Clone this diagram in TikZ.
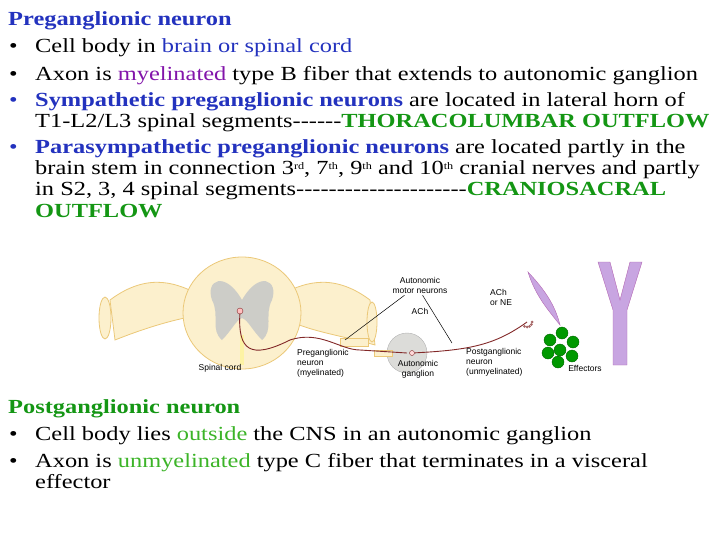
\documentclass[tikz,border=0pt]{standalone}
\usetikzlibrary{shapes.geometric,calc}
\usepackage{fontspec}
\setmainfont{Liberation Serif}[FakeStretch=1.22]
\newfontfamily\arialf{Liberation Sans}
\definecolor{tblue}{RGB}{35,50,190}
\definecolor{tpurp}{RGB}{130,20,170}
\definecolor{tgreen}{RGB}{20,150,20}
\definecolor{lgreen}{RGB}{60,180,40}
\definecolor{cream}{RGB}{252,240,205}
\definecolor{cordline}{RGB}{235,200,120}
\definecolor{gmat}{RGB}{205,205,200}
\definecolor{axon}{RGB}{130,40,40}
\definecolor{vio}{RGB}{200,165,225}
\newcommand\sups[1]{\raisebox{5pt}{\fontsize{10}{10}\selectfont #1}}
\begin{document}
\begin{tikzpicture}[x=1pt,y=-1pt,
  txt/.style={anchor=base west,inner sep=0pt,font=\fontsize{20}{21}\selectfont},
  bul/.style={anchor=base west,inner sep=0pt,font=\fontsize{20}{21}\selectfont},
  lab/.style={inner sep=0pt,align=center,font=\arialf\fontsize{8.5}{10}\selectfont},
  labl/.style={inner sep=0pt,align=left,font=\arialf\fontsize{8.5}{10}\selectfont},
  leader/.style={black,line width=0.5pt}]
\useasboundingbox (0,0) rectangle (728,546);
% text block
\node[txt] (t1) at (8,25) {\textbf{\textcolor{tblue}{Preganglionic neuron}}};
\node[bul] (b1) at (9,52) {•};
\node[txt] (t2) at (35,52) {Cell body in \textcolor{tblue}{brain or spinal cord}};
\node[bul] (b2) at (9,80) {•};
\node[txt] (t3) at (35,80) {Axon is \textcolor{tpurp}{myelinated} type B fiber that extends to autonomic ganglion};
\node[bul] (b3) at (9,106) {\textcolor{tblue}{•}};
\node[txt] (t4) at (35,106) {\textbf{\textcolor{tblue}{Sympathetic preganglionic neurons}} are located in lateral horn of};
\node[txt] (t5) at (35,127) {T1-L2/L3 spinal segments-{}-{}-{}-{}-{}-\textcolor{tgreen}{\textbf{THORACOLUMBAR OUTFLOW}}};
\node[bul] (b4) at (9,153) {\textcolor{tblue}{•}};
\node[txt] (t6) at (35,153) {\textbf{\textcolor{tblue}{Parasympathetic preganglionic neurons}} are located partly in the};
\node[txt] (t7) at (35,174) {brain stem in connection 3\sups{rd}, 7\sups{th}, 9\sups{th} and 10\sups{th} cranial nerves and partly};
\node[txt] (t8) at (35,195) {in S2, 3, 4 spinal segments-{}-{}-{}-{}-{}-{}-{}-{}-{}-{}-{}-{}-{}-{}-{}-{}-{}-{}-{}-{}-{}\textcolor{tgreen}{\textbf{CRANIOSACRAL}}};
\node[txt] (t9) at (35,217) {\textcolor{tgreen}{\textbf{OUTFLOW}}};
\node[txt] (t10) at (8,413) {\textbf{\textcolor{tgreen}{Postganglionic neuron}}};
\node[bul] (b5) at (9,440) {•};
\node[txt] (t11) at (35,440) {Cell body lies \textcolor{lgreen}{outside} the CNS in an autonomic ganglion};
\node[bul] (b6) at (9,467) {•};
\node[txt] (t12) at (35,467) {Axon is \textcolor{lgreen}{unmyelinated} type C fiber that terminates in a visceral};
\node[txt] (t13) at (35,488) {effector};
% spinal cord drawing
\fill[cream,draw=cordline,line width=0.8pt] (110,300) .. controls (150,270) and (180,285) .. (200,295) -- (200,315) .. controls (170,320) and (140,330) .. (115,340) -- cycle;
\fill[cream,draw=cordline,line width=0.8pt] (370,300) .. controls (330,270) and (300,285) .. (280,295) -- (280,315) .. controls (300,330) and (340,335) .. (375,345) -- cycle;
\fill[cream,draw=cordline,line width=0.8pt] (105,318) ellipse (6 and 21);
\fill[cream,draw=cordline,line width=0.8pt] (372,322) ellipse (5 and 20);
\node[draw=cordline,fill=cream,ellipse,minimum width=118,minimum height=112,line width=0.8pt] (cord) at (242,313) {};
\fill[gmat] (242,300) .. controls (225,270) and (205,280) .. (212,300) .. controls (220,315) and (210,330) .. (222,340) .. controls (232,330) and (236,320) .. (242,318) .. controls (248,320) and (252,330) .. (262,340) .. controls (274,330) and (264,315) .. (272,300) .. controls (279,280) and (259,270) .. (242,300) -- cycle;
\fill[cream!80!yellow] (240,335) rectangle (244,365);
\node[draw=axon,fill=pink,circle,minimum size=6pt,inner sep=0pt] (soma) at (240,311) {};
% preganglionic axon
\node[draw=gray!60,fill=gmat!70,circle,minimum size=40pt,inner sep=0pt] (gang) at (407,353) {};
\fill[cream,draw=cordline] (340,338) rectangle (368,346);
\fill[cream,draw=cordline] (374,350) rectangle (392,356);
\draw[axon,line width=0.9pt] (soma) .. controls (238,350) and (250,360) .. (290,340) .. controls (320,330) and (340,350) .. (360,350) -- (gang.center);
\node[draw=axon,fill=pink!60,circle,minimum size=5pt,inner sep=0pt] (gsoma) at (412,353) {};
\coordinate (term) at (527,322);
\draw[axon,line width=0.9pt] (gsoma) .. controls (470,350) and (495,345) .. (term);
\foreach \a in {0,30,60,90,120} \fill[axon!70] ($(term)+(\a:5)$) circle (1.5);
% effectors
\fill[vio,draw=violet!60] (528,272) .. controls (545,290) and (555,305) .. (560,325) .. controls (548,310) and (535,295) .. cycle;
\foreach \p in {(550,340),(562,333),(573,342),(560,350),(548,353),(572,356),(558,362)}
  \fill[green!60!black,draw=green!40!black] \p circle (6);
\fill[vio,draw=violet!60] (598,262) -- (610,262) -- (620,300) -- (630,262) -- (642,262) -- (627,310) -- (627,365) -- (613,365) -- (613,310) -- cycle;
% labels
\node[lab] (lamn) at (420,285) {Autonomic\\motor neurons};
\node[lab] (lach) at (420,311) {ACh};
\node[labl,anchor=west] (lane) at (490,297) {ACh\\or NE};
\node[labl,anchor=north west] (lpre) at (297,349) {Preganglionic\\neuron\\(myelinated)};
\node[lab] (lsc) at (220,368) {Spinal cord};
\node[lab] (lag) at (418,369) {Autonomic\\ganglion};
\node[labl,anchor=north west] (lpost) at (466,348) {Postganglionic\\neuron\\(unmyelinated)};
\node[lab] (leff) at (585,368) {Effectors};
\coordinate (pa) at (345,340);
\coordinate (pb) at (452,343);
\draw[leader] ($(lamn.south west)+(12,2)$) -- (pa);
\draw[leader] ($(lamn.south east)+(-25,2)$) -- (pb);
\end{tikzpicture}
\end{document}
